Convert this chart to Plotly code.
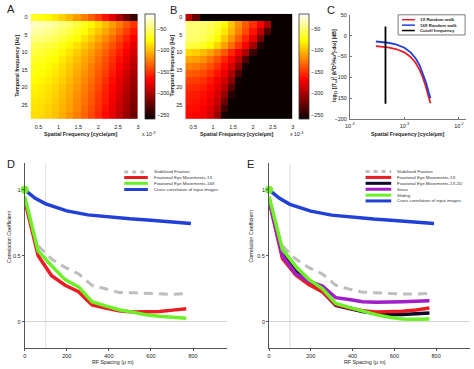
import plotly.graph_objects as go

W, H = 474, 369
FONT = "Arial, 'Liberation Sans', sans-serif"

# ---------------- data ----------------
SF_CENTERS = [0.39, 0.57, 0.75, 0.93, 1.11, 1.29, 1.47, 1.65, 1.83, 2.01, 2.19, 2.37, 2.55, 2.73, 2.91]  # x10^-3 cycle/um
TF_CENTERS = [0, 2, 4, 6, 8, 10, 12, 14, 16, 18, 20, 22, 24, 26, 28]  # Hz
SF_TICKS = [0.5, 1, 1.5, 2, 2.5, 3]
SF_TICKTEXT = ["0.5", "1", "1.5", "2", "2.5", "3"]
TF_TICKS = [0, 5, 10, 15, 20, 25]
CB_TICKS = [-250, -200, -150, -100, -50]

A_Z = [
    [-68, -72, -78, -85, -93, -102, -112, -122, -134, -147, -162, -180, -200, -222, -245],
    [-30, -32, -35, -40, -46, -53, -61, -70, -79, -89, -100, -112, -124, -137, -150],
    [-36, -38, -42, -47, -53, -60, -68, -77, -87, -97, -108, -120, -133, -146, -160],
    [-45, -47, -51, -56, -62, -69, -77, -86, -96, -107, -118, -130, -143, -156, -170],
    [-55, -57, -61, -65, -72, -79, -87, -96, -105, -116, -127, -139, -151, -164, -178],
    [-62, -64, -68, -72, -79, -86, -94, -103, -112, -123, -134, -146, -158, -171, -185],
    [-67, -69, -73, -77, -84, -91, -99, -108, -117, -128, -139, -151, -163, -176, -190],
    [-71, -73, -77, -82, -88, -95, -103, -112, -122, -132, -143, -155, -168, -181, -195],
    [-74, -76, -80, -85, -91, -98, -107, -116, -125, -136, -147, -160, -172, -186, -200],
    [-77, -79, -83, -88, -94, -102, -110, -119, -129, -140, -152, -164, -177, -191, -205],
    [-80, -82, -86, -91, -97, -105, -113, -122, -132, -143, -155, -167, -180, -194, -208],
    [-82, -84, -88, -93, -100, -107, -116, -125, -135, -146, -158, -170, -184, -198, -212],
    [-84, -86, -90, -95, -102, -109, -118, -127, -137, -149, -160, -173, -186, -200, -215],
    [-86, -88, -92, -97, -104, -111, -120, -130, -140, -151, -163, -176, -189, -203, -218],
    [-88, -90, -94, -99, -106, -114, -123, -132, -143, -154, -166, -179, -193, -207, -222],
]

B_Z = [
    [-195, -225, -260, -260, -260, -260, -260, -260, -260, -260, -260, -260, -260, -260, -260],
    [-48, -49, -51, -55, -63, -78, -97, -117, -136, -152, -170, -200, -260, -260, -260],
    [-48, -49, -52, -58, -68, -84, -103, -122, -142, -162, -192, -235, -260, -260, -260],
    [-50, -52, -56, -64, -78, -96, -115, -135, -155, -178, -218, -260, -260, -260, -260],
    [-60, -62, -68, -78, -93, -110, -129, -149, -170, -202, -250, -260, -260, -260, -260],
    [-90, -94, -100, -110, -123, -138, -155, -175, -200, -242, -260, -260, -260, -260, -260],
    [-108, -111, -117, -127, -140, -155, -172, -194, -232, -260, -260, -260, -260, -260, -260],
    [-122, -125, -131, -140, -152, -166, -184, -212, -255, -260, -260, -260, -260, -260, -260],
    [-135, -137, -142, -151, -162, -176, -198, -236, -260, -260, -260, -260, -260, -260, -260],
    [-145, -147, -152, -160, -171, -186, -212, -255, -260, -260, -260, -260, -260, -260, -260],
    [-152, -154, -158, -166, -177, -195, -232, -260, -260, -260, -260, -260, -260, -260, -260],
    [-157, -159, -163, -171, -184, -208, -250, -260, -260, -260, -260, -260, -260, -260, -260],
    [-160, -162, -166, -175, -190, -222, -260, -260, -260, -260, -260, -260, -260, -260, -260],
    [-163, -165, -170, -180, -198, -240, -260, -260, -260, -260, -260, -260, -260, -260, -260],
    [-166, -168, -173, -185, -207, -255, -260, -260, -260, -260, -260, -260, -260, -260, -260],
]

# Panel C
C_K = [3.0e-4, 5.0e-4, 7.0e-4, 1.0e-3, 1.3e-3, 1.6e-3, 1.9e-3, 2.2e-3, 2.5e-3, 2.8e-3, 3.0e-3]
C_1X = [-25, -28, -32, -40, -51, -65, -82, -102, -125, -150, -162]
C_16X = [-14, -17, -21, -29, -40, -54, -71, -91, -113, -137, -150]
C_CUTOFF_K = [4.5e-4, 4.5e-4]
C_CUTOFF_Y = [22, -163]
C_NAMES = ["1X Random walk", "16X Random walk", "Cutoff frequency"]
C_XTICKS = [1e-4, 1e-3, 1e-2]
C_XTICKTEXT = ["10<sup>-4</sup>", "10<sup>-3</sup>", "10<sup>-2</sup>"]
C_YTICKS = [-200, -150, -100, -50, 0, 50]

# Panels D, E
SPACING = [0, 64, 128, 192, 256, 320, 384, 448, 512, 576, 640, 704, 768]
SPACING_STAB = [64, 128, 192, 256, 320, 384, 448, 512, 576, 640, 704, 768]
XCORR_X = [0, 50, 100, 150, 200, 300, 400, 500, 600, 700, 790]

D_STAB = [0.575, 0.475, 0.413, 0.364, 0.277, 0.248, 0.223, 0.22, 0.215, 0.215, 0.208, 0.215]
D_1X = [0.92, 0.50, 0.35, 0.277, 0.228, 0.129, 0.104, 0.084, 0.074, 0.074, 0.079, 0.089, 0.10]
D_16X = [0.95, 0.537, 0.425, 0.32, 0.265, 0.153, 0.121, 0.092, 0.074, 0.054, 0.042, 0.035, 0.027]
D_XCORR = [1.0, 0.935, 0.893, 0.864, 0.84, 0.81, 0.793, 0.78, 0.77, 0.757, 0.745]

E_STAB = [0.575, 0.475, 0.41, 0.362, 0.277, 0.248, 0.225, 0.218, 0.215, 0.212, 0.21, 0.215]
E_1X = [0.92, 0.48, 0.355, 0.28, 0.228, 0.13, 0.105, 0.085, 0.075, 0.075, 0.08, 0.09, 0.105]
E_2D = [0.93, 0.52, 0.38, 0.29, 0.228, 0.125, 0.1, 0.078, 0.063, 0.055, 0.055, 0.06, 0.067]
E_SINUS = [0.92, 0.50, 0.364, 0.307, 0.272, 0.183, 0.17, 0.153, 0.149, 0.149, 0.153, 0.156, 0.16]
E_SLIDE = [0.95, 0.55, 0.42, 0.32, 0.25, 0.14, 0.11, 0.08, 0.055, 0.035, 0.022, 0.02, 0.022]
E_XCORR = [1.0, 0.935, 0.89, 0.862, 0.838, 0.808, 0.79, 0.778, 0.767, 0.755, 0.745]
START_X = [0]
START_Y = [1.0]

D_NAMES = ["Stabilized Fixation", "Fixational Eye Movements-1X",
           "Fixational Eye Movements-16X", "Cross correlation of input images"]
E_NAMES = ["Stabilized Fixation", "Fixational Eye Movements-1X",
           "Fixational Eye Movements-1X-2D", "Sinus", "Sliding",
           "Cross correlation of input images"]
DE_XTICKS = [0, 200, 400, 600, 800]
DE_YTICKS = [0, 0.5, 1]
DE_YTICKTEXT = ["0", "0.5", "1"]

# ---------------- styles ----------------
RED = "rgb(236,28,36)"
BLUE = "rgb(32,64,214)"
GREEN = "rgb(110,240,40)"
GRAY = "rgb(190,190,190)"
BLACK = "rgb(12,10,40)"
PURPLE = "rgb(160,30,200)"
HOT = [[0.0, "rgb(10,0,0)"], [0.375, "rgb(255,0,0)"], [0.75, "rgb(255,255,0)"], [1.0, "rgb(255,255,255)"]]


def px(x):
    return x / W


def py(y):
    return 1 - y / H


fig = go.Figure()

tick_font = dict(family=FONT, size=5.5, color="#222")


def colorbar(x0, y0, y1):
    return dict(x=px(x0), xanchor="left", xpad=0, ypad=0,
                y=py((y0 + y1) / 2), yanchor="middle",
                len=(y1 - y0) / H, lenmode="fraction",
                thickness=10, thicknessmode="pixels",
                outlinewidth=0.8, outlinecolor="#333",
                tickvals=CB_TICKS, tickfont=tick_font, ticks="")


fig.add_trace(go.Heatmap(x=SF_CENTERS, y=TF_CENTERS, z=A_Z, colorscale=HOT, zmin=-260, zmax=-15,
                         xaxis="x", yaxis="y", zsmooth=False,
                         colorbar=colorbar(142, 11, 118)))
fig.add_trace(go.Heatmap(x=SF_CENTERS, y=TF_CENTERS, z=B_Z, colorscale=HOT, zmin=-260, zmax=-15,
                         xaxis="x2", yaxis="y2", zsmooth=False,
                         colorbar=colorbar(298, 11, 118)))

# Panel C
fig.add_trace(go.Scatter(x=C_K, y=C_1X, mode="lines", line=dict(color=RED, width=1.8),
                         xaxis="x3", yaxis="y3", showlegend=False))
fig.add_trace(go.Scatter(x=C_K, y=C_16X, mode="lines", line=dict(color=BLUE, width=1.8),
                         xaxis="x3", yaxis="y3", showlegend=False))
fig.add_trace(go.Scatter(x=C_CUTOFF_K, y=C_CUTOFF_Y, mode="lines", line=dict(color="black", width=1.8),
                         xaxis="x3", yaxis="y3", showlegend=False))

# Panel D
LW = 3.5
fig.add_trace(go.Scatter(x=SPACING_STAB, y=D_STAB, mode="lines",
                         line=dict(color=GRAY, width=3, dash="9px,6px"), xaxis="x4", yaxis="y4", showlegend=False))
fig.add_trace(go.Scatter(x=SPACING, y=D_1X, mode="lines", line=dict(color=RED, width=LW),
                         xaxis="x4", yaxis="y4", showlegend=False))
fig.add_trace(go.Scatter(x=SPACING, y=D_16X, mode="lines", line=dict(color=GREEN, width=LW),
                         xaxis="x4", yaxis="y4", showlegend=False))
fig.add_trace(go.Scatter(x=XCORR_X, y=D_XCORR, mode="lines", line=dict(color=BLUE, width=LW),
                         xaxis="x4", yaxis="y4", showlegend=False))
fig.add_trace(go.Scatter(x=START_X, y=START_Y, mode="markers", marker=dict(color=GREEN, size=8),
                         xaxis="x4", yaxis="y4", showlegend=False, cliponaxis=False))

# Panel E
fig.add_trace(go.Scatter(x=SPACING_STAB, y=E_STAB, mode="lines",
                         line=dict(color=GRAY, width=3, dash="9px,6px"), xaxis="x5", yaxis="y5", showlegend=False))
fig.add_trace(go.Scatter(x=SPACING, y=E_2D, mode="lines", line=dict(color=BLACK, width=LW),
                         xaxis="x5", yaxis="y5", showlegend=False))
fig.add_trace(go.Scatter(x=SPACING, y=E_1X, mode="lines", line=dict(color=RED, width=LW),
                         xaxis="x5", yaxis="y5", showlegend=False))
fig.add_trace(go.Scatter(x=SPACING, y=E_SINUS, mode="lines", line=dict(color=PURPLE, width=LW),
                         xaxis="x5", yaxis="y5", showlegend=False))
fig.add_trace(go.Scatter(x=SPACING, y=E_SLIDE, mode="lines", line=dict(color=GREEN, width=LW),
                         xaxis="x5", yaxis="y5", showlegend=False))
fig.add_trace(go.Scatter(x=XCORR_X, y=E_XCORR, mode="lines", line=dict(color=BLUE, width=LW),
                         xaxis="x5", yaxis="y5", showlegend=False))
fig.add_trace(go.Scatter(x=START_X, y=START_Y, mode="markers", marker=dict(color=GREEN, size=8),
                         xaxis="x5", yaxis="y5", showlegend=False, cliponaxis=False))

# ---------------- axes ----------------
hm_x = dict(range=[0.3, 3.0], tickvals=SF_TICKS, ticktext=SF_TICKTEXT, tickfont=tick_font,
            showgrid=False, zeroline=False, ticks="", ticklabelstandoff=3)
hm_y = dict(range=[29, -1], tickvals=TF_TICKS, tickfont=tick_font, showgrid=False,
            zeroline=False, ticks="", ticklabelstandoff=2)

layout = dict(
    width=W, height=H, margin=dict(l=0, r=0, t=0, b=0),
    paper_bgcolor="white", plot_bgcolor="white", showlegend=False,
    font=dict(family=FONT, size=6, color="#222"),
    xaxis=dict(domain=[px(26), px(135)], anchor="y", **hm_x),
    yaxis=dict(domain=[py(118), py(11)], anchor="x", **hm_y),
    xaxis2=dict(domain=[px(183), px(292)], anchor="y2", **hm_x),
    yaxis2=dict(domain=[py(118), py(11)], anchor="x2", **hm_y),
    xaxis3=dict(domain=[px(350), px(468)], anchor="y3", type="log", range=[-4, -1.87],
                tickvals=C_XTICKS, ticktext=C_XTICKTEXT, tickfont=tick_font, showgrid=False,
                zeroline=False, showline=True, linecolor="#777", linewidth=0.8,
                ticks="inside", ticklen=2, tickcolor="#777", ticklabelstandoff=1),
    yaxis3=dict(domain=[py(118), py(12)], anchor="x3", range=[-200, 50], tickvals=C_YTICKS,
                tickfont=tick_font, showgrid=False, zeroline=False, showline=True,
                linecolor="#777", linewidth=0.8, ticks="inside", ticklen=2, tickcolor="#777",
                ticklabelstandoff=1),
)

de_x = dict(range=[0, 960], tickvals=DE_XTICKS, tickfont=tick_font, showgrid=False, zeroline=False,
            showline=True, linecolor="#555", linewidth=1, ticks="outside", ticklen=2, tickcolor="#555")
de_y = dict(range=[-0.2, 1.2], tickvals=DE_YTICKS, ticktext=DE_YTICKTEXT, tickfont=tick_font,
            showgrid=False, zeroline=True, zerolinecolor="#d4d4d4", zerolinewidth=0.8,
            showline=True, linecolor="#555", linewidth=1, ticks="outside", ticklen=2, tickcolor="#555")
layout["xaxis4"] = dict(domain=[px(20), px(225)], anchor="y4", **de_x)
layout["yaxis4"] = dict(domain=[py(351), py(163)], anchor="x4", **de_y)
layout["xaxis5"] = dict(domain=[px(268), px(471.5)], anchor="y5", **de_x)
layout["yaxis5"] = dict(domain=[py(351), py(163)], anchor="x5", **de_y)
fig.update_layout(**layout)

# ---------------- shapes & annotations ----------------
shapes = []
ann = []

for xa, ya in (("x4", "y4"), ("x5", "y5")):
    shapes.append(dict(type="line", xref=xa, yref=ya, x0=100, x1=100, y0=-0.2, y1=1.2,
                       line=dict(color="#d4d4d4", width=0.8), layer="below"))


def text(x, y, s, size=5.5, angle=0, xanchor="center", yanchor="middle", color="#222"):
    ann.append(dict(x=px(x), y=py(y), xref="paper", yref="paper", text=s, showarrow=False,
                    font=dict(family=FONT, size=size, color=color), textangle=angle,
                    xanchor=xanchor, yanchor=yanchor))


# panel letters
for letter, x, y in (("A", 0, 6), ("B", 165, 7), ("C", 325, 7), ("D", 0, 164), ("E", 244, 164)):
    text(x, y, letter, size=11, xanchor="left")

# heatmap labels
for cx, tx, lx in ((77, 12, 137), (235, 169, 287)):
    text(cx, 133, "<b>Spatial Frequency [cycle/μm]</b>", size=5.3)
    text(tx, 64, "<b>Temporal frequency [Hz]</b>", size=5.3, angle=-90)
    text(lx, 133, "x 10<sup>-3</sup>", size=5.3, xanchor="left")

# panel C labels
text(409, 133, "<b>Spatial Frequency [cycle/μm]</b>", size=5.3)
text(335, 64, "<b>log<sub>10</sub> [|T<sub>ω</sub>|<sup>2</sup> (k<sup>4</sup>D<sup>2</sup>/4ω<sup>4</sup>)·dω] [dB]</b>",
     size=5, angle=-90)
shapes.append(dict(type="rect", xref="paper", yref="paper", x0=px(399), x1=px(467), y0=py(32.5), y1=py(12),
                   line=dict(color="#444", width=0.7), fillcolor="white"))
for name, color, yy in zip(C_NAMES, (RED, BLUE, "black"), (17, 22.5, 28)):
    shapes.append(dict(type="line", xref="paper", yref="paper", x0=px(403), x1=px(416), y0=py(yy), y1=py(yy),
                       line=dict(color=color, width=1.5)))
    text(419, yy, "<b>" + name + "</b>", size=4.3, xanchor="left")

# D, E labels
for yx, cx in ((4, 110), (250, 365)):
    text(yx, 237, "Correlation Coefficient", size=5.3, angle=-90)
    text(cx, 365, "RF Spacing (μ m)", size=5.3)


def legend(names, styles, x0, x1, xt, ys):
    for name, (color, dash), yy in zip(names, styles, ys):
        shapes.append(dict(type="line", xref="paper", yref="paper", x0=px(x0), x1=px(x1), y0=py(yy), y1=py(yy),
                           line=dict(color=color, width=3, dash=dash)))
        text(xt, yy, name, size=4.4, xanchor="left", color="#333")


legend(D_NAMES, [(GRAY, "4px,4px"), (RED, "solid"), (GREEN, "solid"), (BLUE, "solid")],
       121, 145, 149, (171.7, 177.4, 183.3, 189.6))
legend(E_NAMES, [(GRAY, "4px,4px"), (RED, "solid"), (BLACK, "solid"), (PURPLE, "solid"), (GREEN, "solid"), (BLUE, "solid")],
       366, 392, 396, (171.3, 177.3, 183.3, 189.3, 195.3, 201.2))

fig.update_layout(shapes=shapes, annotations=ann)
fig.write_html("out.html", config={"displayModeBar": False},
               post_script="document.body.style.margin='0px';")
